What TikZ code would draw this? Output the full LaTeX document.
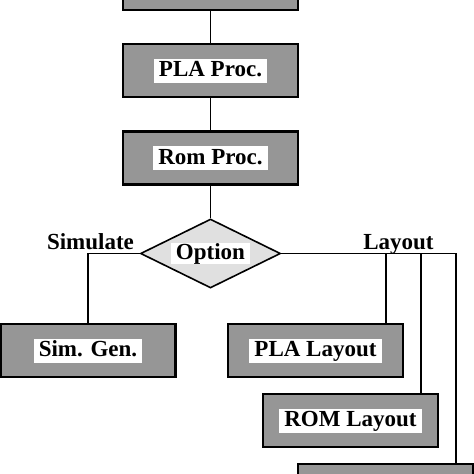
\documentclass[tikz,border=0pt]{standalone}
\usepackage{fontspec}
\setmainfont{Liberation Serif}
\usetikzlibrary{shapes.geometric}
\definecolor{boxgray}{RGB}{150,150,150}
\definecolor{diagray}{RGB}{224,224,224}
\begin{document}
\begin{tikzpicture}[x=1pt,y=-1pt,
  box/.style={draw=black, line width=2.2pt, fill=boxgray, minimum width=175pt, minimum height=53pt, inner sep=0pt},
  dia/.style={diamond, draw=black, line width=1.6pt, fill=diagray, minimum width=140pt, minimum height=69pt, inner sep=0pt},
  lbl/.style={fill=white, inner xsep=5pt, inner ysep=1pt, text height=17pt, text depth=5pt, font=\fontsize{23}{24}\selectfont\bfseries},
  side/.style={font=\fontsize{23}{24}\selectfont\bfseries, inner sep=0pt, anchor=base},
  conn/.style={draw=black, line width=1.5pt}]
\useasboundingbox (0,0) rectangle (474,474);
\clip (0,0) rectangle (474,474);
% boxes
\node[box] (top) at (210.5,-16.5) {};
\node[box] (pla) at (210.5,70.5) {};
\node[lbl] (plat) at (pla) {PLA Proc.};
\node[box] (rom) at (210.5,158) {};
\node[lbl] (romt) at (rom) {Rom Proc.};
\node[dia] (opt) at (210.5,253.5) {};
\node[lbl, inner ysep=0.5pt, text height=16pt, text depth=4pt] (optt) at (opt) {Option};
\node[box] (sim) at (88,350.5) {};
\node[lbl] (simt) at (sim) {Sim. Gen.};
\node[box] (plal) at (315.5,350.5) {};
\node[lbl] (plalt) at (plal) {PLA Layout};
\node[box] (roml) at (350.5,420.5) {};
\node[lbl] (romlt) at (roml) {ROM Layout};
\node[box] (last) at (385.5,490.5) {};
% labels
\node[side] (simlab) at (90.5,249) {Simulate};
\node[side] (laylab) at (398.5,249) {Layout};
% coordinates
\coordinate (sl) at (88,253.5);
\coordinate (b1) at (386,253.5);
\coordinate (b2) at (421,253.5);
\coordinate (b3) at (456,253.5);
% connectors
\draw[conn] (top.south) -- (pla.north);
\draw[conn] (pla.south) -- (rom.north);
\draw[conn] (rom.south) -- (opt.north);
\draw[conn] (opt.west) -- (sl) -- (sim.north);
\draw[conn] (opt.east) -- (b3) -- (b3 |- last.north);
\draw[conn] (b1) -- (b1 |- plal.north);
\draw[conn] (b2) -- (b2 |- roml.north);
\end{tikzpicture}
\end{document}
